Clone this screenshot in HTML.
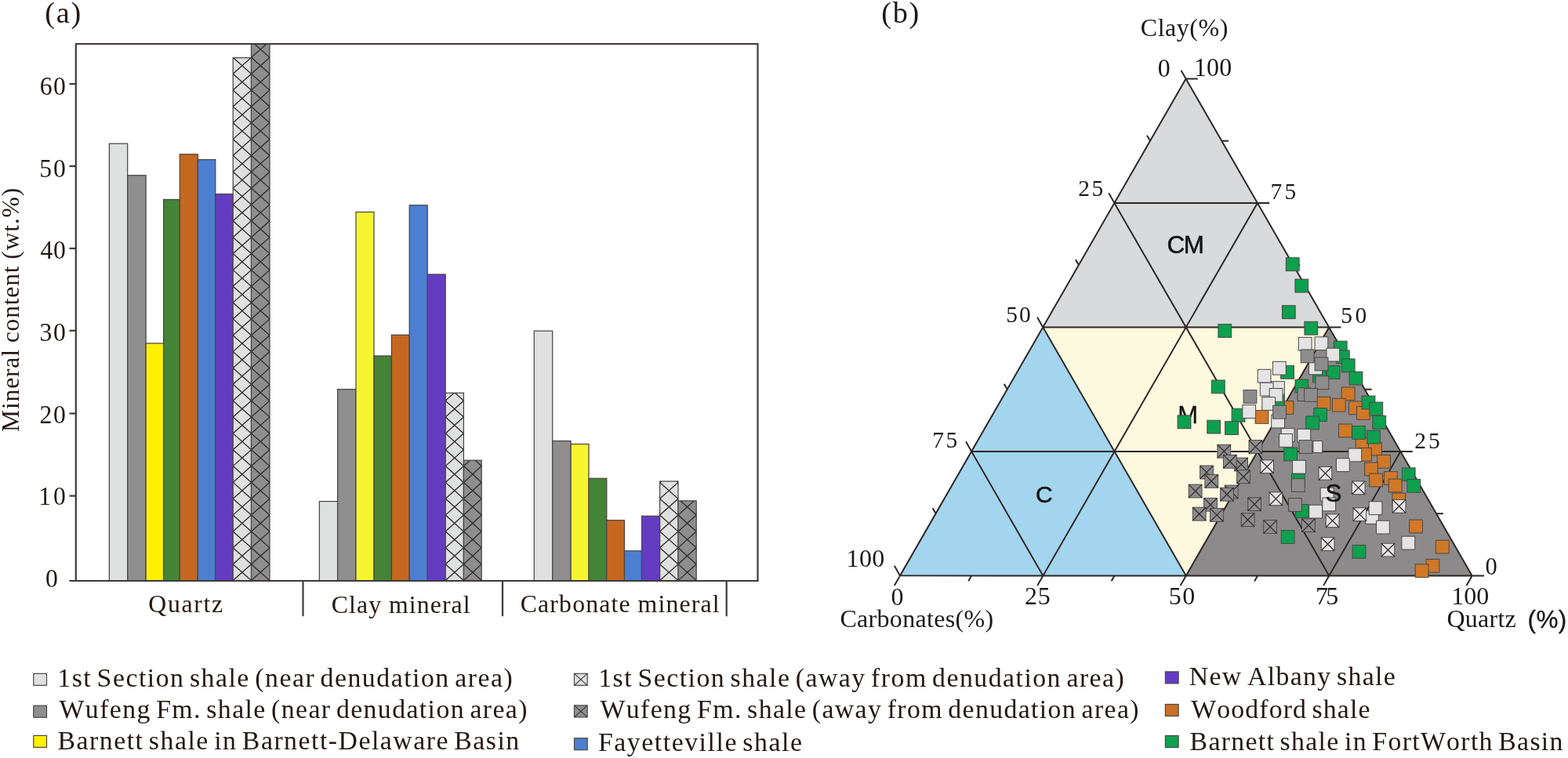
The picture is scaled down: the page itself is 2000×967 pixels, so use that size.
<!DOCTYPE html>
<html lang="en"><head><meta charset="utf-8"><title>Mineral content of shales</title>
<style>
html,body{margin:0;padding:0;background:#fff;}
body{width:2000px;height:967px;overflow:hidden;}
svg{display:block;}
text{font-family:"Liberation Serif", "DejaVu Serif", serif;fill:#231815;font-kerning:none;}
.sans{font-family:"Liberation Sans", "DejaVu Sans", sans-serif;fill:#111;}
</style></head><body>
<svg width="2000" height="967" viewBox="0 0 2000 967">
<rect width="2000" height="967" fill="#fff"/>
<g id="bars">
<rect x="139.4" y="183.2" width="23.3" height="557.8" fill="#dfe0e0" stroke="#4b4646" stroke-width="1.25"/>
<rect x="162.7" y="223.7" width="23.4" height="517.3" fill="#8e8e8e" stroke="#4b4646" stroke-width="1.25"/>
<rect x="186.1" y="438.0" width="22.5" height="303.0" fill="#fff100" stroke="#4b4646" stroke-width="1.25"/>
<rect x="208.6" y="254.5" width="20.7" height="486.5" fill="#448437" stroke="#4b4646" stroke-width="1.25"/>
<rect x="229.3" y="196.8" width="23.0" height="544.2" fill="#c56720" stroke="#4b4646" stroke-width="1.25"/>
<rect x="252.3" y="203.6" width="22.5" height="537.4" fill="#4c7fd1" stroke="#4b4646" stroke-width="1.25"/>
<rect x="274.8" y="247.5" width="22.4" height="493.5" fill="#643cc2" stroke="#4b4646" stroke-width="1.25"/>
<rect x="297.2" y="73.7" width="23.3" height="667.3" fill="#dfe0e0" stroke="#4b4646" stroke-width="1.25"/>
<clipPath id="c2972"><rect x="297.2" y="73.7" width="23.3" height="667.3"/></clipPath>
<path d="M297.2 761.4L320.5 782.2M297.2 782.2L320.5 761.4M297.2 740.5L320.5 761.4M297.2 761.4L320.5 740.5M297.2 719.7L320.5 740.5M297.2 740.5L320.5 719.7M297.2 698.8L320.5 719.7M297.2 719.7L320.5 698.8M297.2 678.0L320.5 698.8M297.2 698.8L320.5 678.0M297.2 657.1L320.5 678.0M297.2 678.0L320.5 657.1M297.2 636.3L320.5 657.1M297.2 657.1L320.5 636.3M297.2 615.4L320.5 636.3M297.2 636.3L320.5 615.4M297.2 594.6L320.5 615.4M297.2 615.4L320.5 594.6M297.2 573.7L320.5 594.6M297.2 594.6L320.5 573.7M297.2 552.9L320.5 573.7M297.2 573.7L320.5 552.9M297.2 532.0L320.5 552.9M297.2 552.9L320.5 532.0M297.2 511.2L320.5 532.0M297.2 532.0L320.5 511.2M297.2 490.3L320.5 511.2M297.2 511.2L320.5 490.3M297.2 469.5L320.5 490.3M297.2 490.3L320.5 469.5M297.2 448.6L320.5 469.5M297.2 469.5L320.5 448.6M297.2 427.8L320.5 448.6M297.2 448.6L320.5 427.8M297.2 406.9L320.5 427.8M297.2 427.8L320.5 406.9M297.2 386.1L320.5 406.9M297.2 406.9L320.5 386.1M297.2 365.2L320.5 386.1M297.2 386.1L320.5 365.2M297.2 344.4L320.5 365.2M297.2 365.2L320.5 344.4M297.2 323.5L320.5 344.4M297.2 344.4L320.5 323.5M297.2 302.7L320.5 323.5M297.2 323.5L320.5 302.7M297.2 281.8L320.5 302.7M297.2 302.7L320.5 281.8M297.2 261.0L320.5 281.8M297.2 281.8L320.5 261.0M297.2 240.1L320.5 261.0M297.2 261.0L320.5 240.1M297.2 219.3L320.5 240.1M297.2 240.1L320.5 219.3M297.2 198.4L320.5 219.3M297.2 219.3L320.5 198.4M297.2 177.6L320.5 198.4M297.2 198.4L320.5 177.6M297.2 156.7L320.5 177.6M297.2 177.6L320.5 156.7M297.2 135.9L320.5 156.7M297.2 156.7L320.5 135.9M297.2 115.0L320.5 135.9M297.2 135.9L320.5 115.0M297.2 94.2L320.5 115.0M297.2 115.0L320.5 94.2M297.2 73.3L320.5 94.2M297.2 94.2L320.5 73.3M297.2 52.5L320.5 73.3M297.2 73.3L320.5 52.5" fill="none" stroke="#2f2b2b" stroke-width="1.3" clip-path="url(#c2972)"/>
<rect x="320.5" y="56.0" width="23.5" height="685.0" fill="#8e8e8e" stroke="#4b4646" stroke-width="1.25"/>
<clipPath id="c3205"><rect x="320.5" y="56.0" width="23.5" height="685.0"/></clipPath>
<path d="M320.5 761.4L344.0 782.2M320.5 782.2L344.0 761.4M320.5 740.5L344.0 761.4M320.5 761.4L344.0 740.5M320.5 719.7L344.0 740.5M320.5 740.5L344.0 719.7M320.5 698.8L344.0 719.7M320.5 719.7L344.0 698.8M320.5 678.0L344.0 698.8M320.5 698.8L344.0 678.0M320.5 657.1L344.0 678.0M320.5 678.0L344.0 657.1M320.5 636.3L344.0 657.1M320.5 657.1L344.0 636.3M320.5 615.4L344.0 636.3M320.5 636.3L344.0 615.4M320.5 594.6L344.0 615.4M320.5 615.4L344.0 594.6M320.5 573.7L344.0 594.6M320.5 594.6L344.0 573.7M320.5 552.9L344.0 573.7M320.5 573.7L344.0 552.9M320.5 532.0L344.0 552.9M320.5 552.9L344.0 532.0M320.5 511.2L344.0 532.0M320.5 532.0L344.0 511.2M320.5 490.3L344.0 511.2M320.5 511.2L344.0 490.3M320.5 469.5L344.0 490.3M320.5 490.3L344.0 469.5M320.5 448.6L344.0 469.5M320.5 469.5L344.0 448.6M320.5 427.8L344.0 448.6M320.5 448.6L344.0 427.8M320.5 406.9L344.0 427.8M320.5 427.8L344.0 406.9M320.5 386.1L344.0 406.9M320.5 406.9L344.0 386.1M320.5 365.2L344.0 386.1M320.5 386.1L344.0 365.2M320.5 344.4L344.0 365.2M320.5 365.2L344.0 344.4M320.5 323.5L344.0 344.4M320.5 344.4L344.0 323.5M320.5 302.7L344.0 323.5M320.5 323.5L344.0 302.7M320.5 281.8L344.0 302.7M320.5 302.7L344.0 281.8M320.5 261.0L344.0 281.8M320.5 281.8L344.0 261.0M320.5 240.1L344.0 261.0M320.5 261.0L344.0 240.1M320.5 219.3L344.0 240.1M320.5 240.1L344.0 219.3M320.5 198.4L344.0 219.3M320.5 219.3L344.0 198.4M320.5 177.6L344.0 198.4M320.5 198.4L344.0 177.6M320.5 156.7L344.0 177.6M320.5 177.6L344.0 156.7M320.5 135.9L344.0 156.7M320.5 156.7L344.0 135.9M320.5 115.0L344.0 135.9M320.5 135.9L344.0 115.0M320.5 94.2L344.0 115.0M320.5 115.0L344.0 94.2M320.5 73.3L344.0 94.2M320.5 94.2L344.0 73.3M320.5 52.5L344.0 73.3M320.5 73.3L344.0 52.5M320.5 31.6L344.0 52.5M320.5 52.5L344.0 31.6" fill="none" stroke="#2f2b2b" stroke-width="1.3" clip-path="url(#c3205)"/>
<rect x="407.4" y="639.6" width="23.2" height="101.4" fill="#dfe0e0" stroke="#4b4646" stroke-width="1.25"/>
<rect x="430.6" y="496.6" width="23.4" height="244.4" fill="#8e8e8e" stroke="#4b4646" stroke-width="1.25"/>
<rect x="454.0" y="270.5" width="23.0" height="470.5" fill="#f6f532" stroke="#4b4646" stroke-width="1.25"/>
<rect x="477.0" y="454.0" width="22.4" height="287.0" fill="#448437" stroke="#4b4646" stroke-width="1.25"/>
<rect x="499.4" y="427.3" width="22.8" height="313.7" fill="#c56720" stroke="#4b4646" stroke-width="1.25"/>
<rect x="522.2" y="261.8" width="23.1" height="479.2" fill="#4c7fd1" stroke="#4b4646" stroke-width="1.25"/>
<rect x="545.3" y="350.0" width="22.9" height="391.0" fill="#643cc2" stroke="#4b4646" stroke-width="1.25"/>
<rect x="568.2" y="501.3" width="23.2" height="239.7" fill="#dfe0e0" stroke="#4b4646" stroke-width="1.25"/>
<clipPath id="c5682"><rect x="568.2" y="501.3" width="23.2" height="239.7"/></clipPath>
<path d="M568.2 761.4L591.4 782.2M568.2 782.2L591.4 761.4M568.2 740.5L591.4 761.4M568.2 761.4L591.4 740.5M568.2 719.7L591.4 740.5M568.2 740.5L591.4 719.7M568.2 698.8L591.4 719.7M568.2 719.7L591.4 698.8M568.2 678.0L591.4 698.8M568.2 698.8L591.4 678.0M568.2 657.1L591.4 678.0M568.2 678.0L591.4 657.1M568.2 636.3L591.4 657.1M568.2 657.1L591.4 636.3M568.2 615.4L591.4 636.3M568.2 636.3L591.4 615.4M568.2 594.6L591.4 615.4M568.2 615.4L591.4 594.6M568.2 573.7L591.4 594.6M568.2 594.6L591.4 573.7M568.2 552.9L591.4 573.7M568.2 573.7L591.4 552.9M568.2 532.0L591.4 552.9M568.2 552.9L591.4 532.0M568.2 511.2L591.4 532.0M568.2 532.0L591.4 511.2M568.2 490.3L591.4 511.2M568.2 511.2L591.4 490.3" fill="none" stroke="#2f2b2b" stroke-width="1.3" clip-path="url(#c5682)"/>
<rect x="591.4" y="587.2" width="22.8" height="153.8" fill="#8e8e8e" stroke="#4b4646" stroke-width="1.25"/>
<clipPath id="c5914"><rect x="591.4" y="587.2" width="22.8" height="153.8"/></clipPath>
<path d="M591.4 761.4L614.2 782.2M591.4 782.2L614.2 761.4M591.4 740.5L614.2 761.4M591.4 761.4L614.2 740.5M591.4 719.7L614.2 740.5M591.4 740.5L614.2 719.7M591.4 698.8L614.2 719.7M591.4 719.7L614.2 698.8M591.4 678.0L614.2 698.8M591.4 698.8L614.2 678.0M591.4 657.1L614.2 678.0M591.4 678.0L614.2 657.1M591.4 636.3L614.2 657.1M591.4 657.1L614.2 636.3M591.4 615.4L614.2 636.3M591.4 636.3L614.2 615.4M591.4 594.6L614.2 615.4M591.4 615.4L614.2 594.6M591.4 573.7L614.2 594.6M591.4 594.6L614.2 573.7" fill="none" stroke="#2f2b2b" stroke-width="1.3" clip-path="url(#c5914)"/>
<rect x="681.3" y="422.2" width="23.4" height="318.8" fill="#dfe0e0" stroke="#4b4646" stroke-width="1.25"/>
<rect x="704.7" y="562.5" width="23.4" height="178.5" fill="#8e8e8e" stroke="#4b4646" stroke-width="1.25"/>
<rect x="728.1" y="566.5" width="22.9" height="174.5" fill="#f6f532" stroke="#4b4646" stroke-width="1.25"/>
<rect x="751.0" y="610.3" width="22.8" height="130.7" fill="#448437" stroke="#4b4646" stroke-width="1.25"/>
<rect x="773.8" y="663.7" width="22.7" height="77.3" fill="#c56720" stroke="#4b4646" stroke-width="1.25"/>
<rect x="796.5" y="702.8" width="22.0" height="38.2" fill="#4c7fd1" stroke="#4b4646" stroke-width="1.25"/>
<rect x="818.5" y="658.3" width="23.1" height="82.7" fill="#643cc2" stroke="#4b4646" stroke-width="1.25"/>
<rect x="841.6" y="614.0" width="23.4" height="127.0" fill="#dfe0e0" stroke="#4b4646" stroke-width="1.25"/>
<clipPath id="c8416"><rect x="841.6" y="614.0" width="23.4" height="127.0"/></clipPath>
<path d="M841.6 761.4L865.0 782.2M841.6 782.2L865.0 761.4M841.6 740.5L865.0 761.4M841.6 761.4L865.0 740.5M841.6 719.7L865.0 740.5M841.6 740.5L865.0 719.7M841.6 698.8L865.0 719.7M841.6 719.7L865.0 698.8M841.6 678.0L865.0 698.8M841.6 698.8L865.0 678.0M841.6 657.1L865.0 678.0M841.6 678.0L865.0 657.1M841.6 636.3L865.0 657.1M841.6 657.1L865.0 636.3M841.6 615.4L865.0 636.3M841.6 636.3L865.0 615.4M841.6 594.6L865.0 615.4M841.6 615.4L865.0 594.6" fill="none" stroke="#2f2b2b" stroke-width="1.3" clip-path="url(#c8416)"/>
<rect x="865.0" y="638.9" width="23.2" height="102.1" fill="#8e8e8e" stroke="#4b4646" stroke-width="1.25"/>
<clipPath id="c8650"><rect x="865.0" y="638.9" width="23.2" height="102.1"/></clipPath>
<path d="M865.0 761.4L888.2 782.2M865.0 782.2L888.2 761.4M865.0 740.5L888.2 761.4M865.0 761.4L888.2 740.5M865.0 719.7L888.2 740.5M865.0 740.5L888.2 719.7M865.0 698.8L888.2 719.7M865.0 719.7L888.2 698.8M865.0 678.0L888.2 698.8M865.0 698.8L888.2 678.0M865.0 657.1L888.2 678.0M865.0 678.0L888.2 657.1M865.0 636.3L888.2 657.1M865.0 657.1L888.2 636.3M865.0 615.4L888.2 636.3M865.0 636.3L888.2 615.4" fill="none" stroke="#2f2b2b" stroke-width="1.3" clip-path="url(#c8650)"/>
</g>
<g id="axes" fill="none" stroke="#3e3a39" stroke-width="2.2">
<path d="M96.8 741.0V56.0H966.5V741.0"/>
<path d="M88.5 741.0H967.5"/>
<path d="M88.5 107.0H96.8"/>
<path d="M88.5 212.0H96.8"/>
<path d="M88.5 316.9H96.8"/>
<path d="M88.5 421.8H96.8"/>
<path d="M88.5 527.5H96.8"/>
<path d="M88.5 632.6H96.8"/>
<path d="M386.5 741.0V786.2"/>
<path d="M641.0 741.0V786.2"/>
<path d="M926.7 741.0V786.2"/>
</g>
<g id="bar-labels">
<text transform="translate(57.32 28.60) scale(1.02 1)" font-size="37.5" style="letter-spacing:1.67px">(a)</text>
<text transform="translate(50.64 121.00) scale(0.96 1)" font-size="33.0" style="letter-spacing:1.65px">60</text>
<text transform="translate(50.16 225.67) scale(0.96 1)" font-size="33.0" style="letter-spacing:2.15px">50</text>
<text transform="translate(51.38 330.34) scale(0.96 1)" font-size="33.0" style="letter-spacing:0.88px">40</text>
<text transform="translate(50.48 435.01) scale(0.96 1)" font-size="33.0" style="letter-spacing:1.82px">30</text>
<text transform="translate(50.61 539.68) scale(0.96 1)" font-size="33.0" style="letter-spacing:1.69px">20</text>
<text transform="translate(49.22 644.35) scale(0.96 1)" font-size="33.0" style="letter-spacing:3.14px">10</text>
<text transform="translate(58.04 749.00) scale(0.96 1)" font-size="33.0" style="letter-spacing:0.00px">0</text>
<text transform="translate(24.00 550.91) rotate(-90) scale(1.0 1)" font-size="31.5" style="letter-spacing:0.86px;word-spacing:-0.86px">Mineral content (wt.%)</text>
<text transform="translate(189.30 781.30) scale(1.0 1)" font-size="31.8" style="letter-spacing:1.65px">Quartz</text>
<text transform="translate(422.80 781.50) scale(1.0 1)" font-size="31.8" style="letter-spacing:1.11px;word-spacing:-0.47px">Clay mineral</text>
<text transform="translate(663.70 780.50) scale(1.0 1)" font-size="31.8" style="letter-spacing:1.17px;word-spacing:-0.53px">Carbonate mineral</text>
</g>
<g id="legend">
<rect x="42.8" y="859.3" width="16.7" height="15.0" fill="#dfe0e0" stroke="#4b4646" stroke-width="1.2"/>
<rect x="42.8" y="900.2" width="16.7" height="15.0" fill="#8e8e8e" stroke="#4b4646" stroke-width="1.2"/>
<rect x="42.8" y="938.4" width="16.7" height="15.0" fill="#fff100" stroke="#4b4646" stroke-width="1.2"/>
<rect x="732.5" y="859.3" width="16.7" height="15.0" fill="#dfe0e0" stroke="#4b4646" stroke-width="1.2"/>
<path d="M732.5 859.3L749.2 874.3M749.2 859.3L732.5 874.3" stroke="#3a3636" stroke-width="1.1" fill="none"/>
<rect x="732.5" y="899.9" width="16.7" height="15.0" fill="#8e8e8e" stroke="#4b4646" stroke-width="1.2"/>
<path d="M732.5 899.9L749.2 914.9M749.2 899.9L732.5 914.9" stroke="#3a3636" stroke-width="1.1" fill="none"/>
<rect x="732.5" y="941.7" width="16.7" height="15.0" fill="#4c7fd1" stroke="#4b4646" stroke-width="1.2"/>
<rect x="1486.4" y="856.9" width="16.7" height="15.0" fill="#643cc2" stroke="#4b4646" stroke-width="1.2"/>
<rect x="1486.4" y="898.5" width="16.7" height="15.0" fill="#c8702a" stroke="#4b4646" stroke-width="1.2"/>
<rect x="1486.4" y="938.5" width="16.7" height="15.0" fill="#12a050" stroke="#4b4646" stroke-width="1.2"/>
<text transform="translate(73.23 875.80) scale(1.0 1)" font-size="33.8" style="letter-spacing:1.50px;word-spacing:-3.53px">1st Section shale (near denudation area)</text>
<text transform="translate(75.57 915.70) scale(1.0 1)" font-size="33.8" style="letter-spacing:1.39px;word-spacing:-3.42px">Wufeng Fm. shale (near denudation area)</text>
<text transform="translate(73.53 955.70) scale(1.0 1)" font-size="33.8" style="letter-spacing:1.49px;word-spacing:-3.52px">Barnett shale in Barnett-Delaware Basin</text>
<text transform="translate(763.23 875.80) scale(1.0 1)" font-size="33.8" style="letter-spacing:1.47px;word-spacing:-3.50px">1st Section shale (away from denudation area)</text>
<text transform="translate(765.57 915.60) scale(1.0 1)" font-size="33.8" style="letter-spacing:1.37px;word-spacing:-3.40px">Wufeng Fm. shale (away from denudation area)</text>
<text transform="translate(762.93 957.50) scale(1.0 1)" font-size="33.8" style="letter-spacing:1.54px;word-spacing:-3.57px">Fayetteville shale</text>
<text transform="translate(1516.63 874.20) scale(1.0 1)" font-size="33.8" style="letter-spacing:1.35px;word-spacing:-3.38px">New Albany shale</text>
<text transform="translate(1519.27 915.50) scale(1.0 1)" font-size="33.8" style="letter-spacing:1.12px;word-spacing:-3.15px">Woodford shale</text>
<text transform="translate(1517.53 957.20) scale(1.0 1)" font-size="33.8" style="letter-spacing:1.31px;word-spacing:-3.34px">Barnett shale in FortWorth Basin</text>
</g>
<g id="ternary">
<path d="M1512.6 100.4L1695.2 417.4L1330.3 417.4Z" fill="#d9dadb"/>
<path d="M1330.3 417.4L1695.2 417.4L1512.8 734.5Z" fill="#fdf9de"/>
<path d="M1330.3 417.4L1512.8 734.5L1148.0 734.4Z" fill="#a4d5ee"/>
<path d="M1695.2 417.4L1877.7 734.5L1512.8 734.5Z" fill="#8c8a8a"/>
<path d="M1512.6 100.4L1877.7 734.5L1148.0 734.4ZM1239.2 575.9L1786.4 576.0M1330.4 734.4L1603.9 258.9M1695.3 734.5L1421.4 258.9M1330.3 417.4L1695.2 417.4M1512.8 734.5L1695.2 417.4M1512.8 734.5L1330.3 417.4M1421.4 258.9L1603.9 258.9M1695.3 734.5L1786.4 576.0M1330.4 734.4L1239.2 575.9M1148.0 734.4l-7.2 -12.6M1877.7 734.5h15.3M1148.0 734.4l-7.2 12.6M1193.6 655.1l-4.0 -6.9M1832.1 655.2h8.8M1239.2 734.4l-4.0 6.9M1239.2 575.9l-7.2 -12.6M1786.4 576.0h15.3M1330.4 734.4l-7.2 12.6M1284.7 496.6l-4.0 -6.9M1740.8 496.7h8.8M1421.6 734.4l-4.0 6.9M1330.3 417.4l-7.2 -12.6M1695.2 417.4h15.3M1512.8 734.5l-7.2 12.6M1375.9 338.1l-4.0 -6.9M1649.5 338.2h8.8M1604.1 734.5l-4.0 6.9M1421.4 258.9l-7.2 -12.6M1603.9 258.9h15.3M1695.3 734.5l-7.2 12.6M1467.0 179.7l-4.0 -6.9M1558.2 179.7h8.8M1512.6 100.4l-6.1 -10.6M1512.6 100.4h15.3M1877.7 734.5l-7.2 12.6" fill="none" stroke="#2b2624" stroke-width="1.95" stroke-linejoin="miter"/>
<text x="1488.6" y="323.0" font-size="31.5" class="sans" textLength="47.5" lengthAdjust="spacing" stroke="#111" stroke-width="0.5">CM</text>
<text x="1502.3" y="540.4" font-size="31" class="sans" stroke="#111" stroke-width="0.3">M</text>
<text x="1321.0" y="641.3" font-size="30" class="sans" stroke="#111" stroke-width="0.5">C</text>
<g id="points" stroke="#4d4848" stroke-width="1">
<g fill="#d07828">
<rect x="1711.3" y="493.9" width="16.8" height="16.8"/>
<rect x="1680.1" y="506.4" width="16.8" height="16.8"/>
<rect x="1699.4" y="508.3" width="16.8" height="16.8"/>
<rect x="1720.4" y="512.0" width="16.8" height="16.8"/>
<rect x="1730.5" y="518.5" width="16.8" height="16.8"/>
<rect x="1633.0" y="511.6" width="16.8" height="16.8"/>
<rect x="1601.1" y="523.5" width="16.8" height="16.8"/>
<rect x="1707.5" y="541.0" width="16.8" height="16.8"/>
<rect x="1729.2" y="558.1" width="16.8" height="16.8"/>
<rect x="1745.5" y="564.2" width="16.8" height="16.8"/>
<rect x="1732.5" y="571.4" width="16.8" height="16.8"/>
<rect x="1756.7" y="580.4" width="16.8" height="16.8"/>
<rect x="1740.6" y="590.1" width="16.8" height="16.8"/>
<rect x="1746.7" y="604.1" width="16.8" height="16.8"/>
<rect x="1765.5" y="601.6" width="16.8" height="16.8"/>
<rect x="1771.3" y="611.1" width="16.8" height="16.8"/>
<rect x="1775.9" y="629.1" width="16.8" height="16.8"/>
<rect x="1797.6" y="663.1" width="16.8" height="16.8"/>
<rect x="1831.4" y="689.2" width="16.8" height="16.8"/>
<rect x="1819.0" y="713.4" width="16.8" height="16.8"/>
<rect x="1805.2" y="719.8" width="16.8" height="16.8"/>
</g>
<g fill="#0da04e">
<rect x="1640.3" y="328.8" width="16.8" height="16.8"/>
<rect x="1651.9" y="356.2" width="16.8" height="16.8"/>
<rect x="1635.4" y="389.8" width="16.8" height="16.8"/>
<rect x="1663.9" y="410.3" width="16.8" height="16.8"/>
<rect x="1553.9" y="413.6" width="16.8" height="16.8"/>
<rect x="1701.3" y="435.2" width="16.8" height="16.8"/>
<rect x="1704.4" y="447.0" width="16.8" height="16.8"/>
<rect x="1711.3" y="457.9" width="16.8" height="16.8"/>
<rect x="1633.6" y="466.4" width="16.8" height="16.8"/>
<rect x="1674.6" y="471.1" width="16.8" height="16.8"/>
<rect x="1692.1" y="466.6" width="16.8" height="16.8"/>
<rect x="1721.1" y="474.2" width="16.8" height="16.8"/>
<rect x="1545.4" y="485.0" width="16.8" height="16.8"/>
<rect x="1652.0" y="484.2" width="16.8" height="16.8"/>
<rect x="1621.6" y="501.6" width="16.8" height="16.8"/>
<rect x="1737.1" y="505.1" width="16.8" height="16.8"/>
<rect x="1746.9" y="513.1" width="16.8" height="16.8"/>
<rect x="1571.1" y="521.3" width="16.8" height="16.8"/>
<rect x="1675.7" y="520.6" width="16.8" height="16.8"/>
<rect x="1665.7" y="531.0" width="16.8" height="16.8"/>
<rect x="1502.1" y="529.9" width="16.8" height="16.8"/>
<rect x="1539.8" y="536.2" width="16.8" height="16.8"/>
<rect x="1562.6" y="537.7" width="16.8" height="16.8"/>
<rect x="1750.8" y="530.4" width="16.8" height="16.8"/>
<rect x="1724.6" y="543.5" width="16.8" height="16.8"/>
<rect x="1743.6" y="549.2" width="16.8" height="16.8"/>
<rect x="1637.7" y="571.1" width="16.8" height="16.8"/>
<rect x="1647.4" y="604.6" width="16.8" height="16.8"/>
<rect x="1788.3" y="596.9" width="16.8" height="16.8"/>
<rect x="1794.9" y="611.4" width="16.8" height="16.8"/>
<rect x="1652.3" y="643.6" width="16.8" height="16.8"/>
<rect x="1634.2" y="676.6" width="16.8" height="16.8"/>
<rect x="1725.1" y="695.4" width="16.8" height="16.8"/>
</g>
<g fill="#e4e4e4">
<rect x="1656.3" y="430.4" width="16.8" height="16.8"/>
<rect x="1677.0" y="429.8" width="16.8" height="16.8"/>
<rect x="1691.9" y="444.2" width="16.8" height="16.8"/>
<rect x="1623.4" y="461.3" width="16.8" height="16.8"/>
<rect x="1669.6" y="461.0" width="16.8" height="16.8"/>
<rect x="1604.2" y="471.3" width="16.8" height="16.8"/>
<rect x="1621.6" y="486.6" width="16.8" height="16.8"/>
<rect x="1607.3" y="488.2" width="16.8" height="16.8"/>
<rect x="1619.2" y="495.5" width="16.8" height="16.8"/>
<rect x="1609.8" y="506.6" width="16.8" height="16.8"/>
<rect x="1584.8" y="516.6" width="16.8" height="16.8"/>
<rect x="1621.7" y="529.1" width="16.8" height="16.8"/>
<rect x="1634.2" y="546.6" width="16.8" height="16.8"/>
<rect x="1631.7" y="553.5" width="16.8" height="16.8"/>
<rect x="1654.9" y="547.3" width="16.8" height="16.8"/>
<rect x="1674.9" y="562.5" width="11.8" height="15.0"/>
<rect x="1719.9" y="572.1" width="16.8" height="16.8"/>
<rect x="1704.5" y="584.8" width="16.8" height="16.8"/>
<rect x="1648.6" y="587.3" width="16.8" height="16.8"/>
<rect x="1684.2" y="622.3" width="16.8" height="16.8"/>
<rect x="1686.8" y="635.1" width="16.8" height="16.8"/>
<rect x="1669.7" y="644.2" width="16.8" height="16.8"/>
<rect x="1741.6" y="651.6" width="16.8" height="16.8"/>
<rect x="1746.1" y="639.8" width="16.8" height="16.8"/>
<rect x="1755.5" y="664.2" width="16.8" height="16.8"/>
<rect x="1787.9" y="684.2" width="16.8" height="16.8"/>
</g>
<g fill="#8e8d8d">
<rect x="1659.2" y="446.0" width="16.8" height="16.8"/>
<rect x="1677.1" y="456.0" width="16.8" height="16.8"/>
<rect x="1678.0" y="479.8" width="16.8" height="16.8"/>
<rect x="1655.1" y="494.8" width="16.8" height="16.8"/>
<rect x="1663.6" y="495.5" width="16.8" height="16.8"/>
<rect x="1586.1" y="497.6" width="16.8" height="16.8"/>
<rect x="1623.6" y="517.3" width="16.8" height="16.8"/>
<rect x="1657.0" y="561.6" width="16.8" height="16.8"/>
<rect x="1647.4" y="610.6" width="16.8" height="16.8"/>
<rect x="1643.6" y="635.6" width="16.8" height="16.8"/>
</g>
<g fill="#e4e4e4">
<rect x="1607.7" y="586.9" width="16.8" height="16.8"/>
<path d="M1607.7 586.9l16.8 16.8M1624.5 586.9l-16.8 16.8" stroke="#2e2a2a" stroke-width="1.25"/>
<rect x="1682.0" y="595.4" width="16.8" height="16.8"/>
<path d="M1682.0 595.4l16.8 16.8M1698.8 595.4l-16.8 16.8" stroke="#2e2a2a" stroke-width="1.25"/>
<rect x="1724.3" y="613.9" width="16.8" height="16.8"/>
<path d="M1724.3 613.9l16.8 16.8M1741.1 613.9l-16.8 16.8" stroke="#2e2a2a" stroke-width="1.25"/>
<rect x="1619.0" y="627.9" width="16.8" height="16.8"/>
<path d="M1619.0 627.9l16.8 16.8M1635.8 627.9l-16.8 16.8" stroke="#2e2a2a" stroke-width="1.25"/>
<rect x="1725.9" y="647.8" width="16.8" height="16.8"/>
<path d="M1725.9 647.8l16.8 16.8M1742.7 647.8l-16.8 16.8" stroke="#2e2a2a" stroke-width="1.25"/>
<rect x="1691.2" y="655.9" width="16.8" height="16.8"/>
<path d="M1691.2 655.9l16.8 16.8M1708.0 655.9l-16.8 16.8" stroke="#2e2a2a" stroke-width="1.25"/>
<rect x="1776.2" y="637.4" width="16.8" height="16.8"/>
<path d="M1776.2 637.4l16.8 16.8M1793.0 637.4l-16.8 16.8" stroke="#2e2a2a" stroke-width="1.25"/>
<rect x="1685.2" y="685.7" width="16.8" height="16.8"/>
<path d="M1685.2 685.7l16.8 16.8M1702.0 685.7l-16.8 16.8" stroke="#2e2a2a" stroke-width="1.25"/>
<rect x="1762.0" y="693.2" width="16.8" height="16.8"/>
<path d="M1762.0 693.2l16.8 16.8M1778.8 693.2l-16.8 16.8" stroke="#2e2a2a" stroke-width="1.25"/>
</g>
<g fill="#8e8d8d">
<rect x="1593.0" y="561.6" width="16.8" height="16.8"/>
<path d="M1593.0 561.6l16.8 16.8M1609.8 561.6l-16.8 16.8" stroke="#2e2a2a" stroke-width="1.25"/>
<rect x="1552.9" y="567.3" width="16.8" height="16.8"/>
<path d="M1552.9 567.3l16.8 16.8M1569.7 567.3l-16.8 16.8" stroke="#2e2a2a" stroke-width="1.25"/>
<rect x="1574.7" y="584.1" width="16.8" height="16.8"/>
<path d="M1574.7 584.1l16.8 16.8M1591.5 584.1l-16.8 16.8" stroke="#2e2a2a" stroke-width="1.25"/>
<rect x="1560.4" y="580.4" width="16.8" height="16.8"/>
<path d="M1560.4 580.4l16.8 16.8M1577.2 580.4l-16.8 16.8" stroke="#2e2a2a" stroke-width="1.25"/>
<rect x="1530.6" y="594.1" width="16.8" height="16.8"/>
<path d="M1530.6 594.1l16.8 16.8M1547.4 594.1l-16.8 16.8" stroke="#2e2a2a" stroke-width="1.25"/>
<rect x="1577.6" y="599.8" width="16.8" height="16.8"/>
<path d="M1577.6 599.8l16.8 16.8M1594.4 599.8l-16.8 16.8" stroke="#2e2a2a" stroke-width="1.25"/>
<rect x="1536.9" y="605.4" width="16.8" height="16.8"/>
<path d="M1536.9 605.4l16.8 16.8M1553.7 605.4l-16.8 16.8" stroke="#2e2a2a" stroke-width="1.25"/>
<rect x="1516.2" y="618.1" width="16.8" height="16.8"/>
<path d="M1516.2 618.1l16.8 16.8M1533.0 618.1l-16.8 16.8" stroke="#2e2a2a" stroke-width="1.25"/>
<rect x="1562.3" y="619.1" width="16.8" height="16.8"/>
<path d="M1562.3 619.1l16.8 16.8M1579.1 619.1l-16.8 16.8" stroke="#2e2a2a" stroke-width="1.25"/>
<rect x="1556.6" y="622.3" width="16.8" height="16.8"/>
<path d="M1556.6 622.3l16.8 16.8M1573.4 622.3l-16.8 16.8" stroke="#2e2a2a" stroke-width="1.25"/>
<rect x="1535.6" y="635.4" width="16.8" height="16.8"/>
<path d="M1535.6 635.4l16.8 16.8M1552.4 635.4l-16.8 16.8" stroke="#2e2a2a" stroke-width="1.25"/>
<rect x="1521.3" y="647.3" width="16.8" height="16.8"/>
<path d="M1521.3 647.3l16.8 16.8M1538.1 647.3l-16.8 16.8" stroke="#2e2a2a" stroke-width="1.25"/>
<rect x="1543.6" y="648.6" width="16.8" height="16.8"/>
<path d="M1543.6 648.6l16.8 16.8M1560.4 648.6l-16.8 16.8" stroke="#2e2a2a" stroke-width="1.25"/>
<rect x="1591.7" y="634.8" width="16.8" height="16.8"/>
<path d="M1591.7 634.8l16.8 16.8M1608.5 634.8l-16.8 16.8" stroke="#2e2a2a" stroke-width="1.25"/>
<rect x="1583.2" y="654.8" width="16.8" height="16.8"/>
<path d="M1583.2 654.8l16.8 16.8M1600.0 654.8l-16.8 16.8" stroke="#2e2a2a" stroke-width="1.25"/>
<rect x="1611.7" y="663.6" width="16.8" height="16.8"/>
<path d="M1611.7 663.6l16.8 16.8M1628.5 663.6l-16.8 16.8" stroke="#2e2a2a" stroke-width="1.25"/>
<rect x="1660.5" y="661.8" width="16.8" height="16.8"/>
<path d="M1660.5 661.8l16.8 16.8M1677.3 661.8l-16.8 16.8" stroke="#2e2a2a" stroke-width="1.25"/>
</g>
</g>
<text x="1690.6" y="640.4" font-size="31.5" class="sans" stroke="#111" stroke-width="0.4">S</text>
<g id="tern-labels">
<text transform="translate(1124.32 28.60) scale(1.02 1)" font-size="37.5" style="letter-spacing:1.60px;fill:#1a1a1a">(b)</text>
<text transform="translate(1454.79 45.90) scale(1.0 1)" font-size="32.0" style="letter-spacing:0.52px;fill:#1a1a1a">Clay(%)</text>
<text transform="translate(1476.78 98.40) scale(0.96 1)" font-size="33.3" style="letter-spacing:0.00px;fill:#1a1a1a">0</text>
<text transform="translate(1522.94 97.30) scale(0.96 1)" font-size="33.3" style="letter-spacing:0.17px;fill:#1a1a1a">100</text>
<text transform="translate(1375.20 249.50) scale(1.0 1)" font-size="29.5" style="letter-spacing:2.45px;fill:#1a1a1a">25</text>
<text transform="translate(1620.56 253.80) scale(1.0 1)" font-size="29.5" style="letter-spacing:3.10px;fill:#1a1a1a">75</text>
<text transform="translate(1283.29 410.50) scale(1.0 1)" font-size="29.5" style="letter-spacing:1.84px;fill:#1a1a1a">50</text>
<text transform="translate(1710.29 412.00) scale(1.0 1)" font-size="29.5" style="letter-spacing:3.34px;fill:#1a1a1a">50</text>
<text transform="translate(1189.36 570.80) scale(1.0 1)" font-size="29.5" style="letter-spacing:2.30px;fill:#1a1a1a">75</text>
<text transform="translate(1804.30 572.00) scale(1.0 1)" font-size="29.5" style="letter-spacing:3.05px;fill:#1a1a1a">25</text>
<text transform="translate(1079.59 723.40) scale(1.0 1)" font-size="32.0" style="letter-spacing:0.32px;fill:#1a1a1a">100</text>
<text transform="translate(1894.44 732.60) scale(1.0 1)" font-size="30.5" style="letter-spacing:0.00px;fill:#1a1a1a">0</text>
<text transform="translate(1136.38 772.20) scale(1.0 1)" font-size="32.0" style="letter-spacing:0.00px;fill:#1a1a1a">0</text>
<text transform="translate(1307.09 771.00) scale(1.0 1)" font-size="32.0" style="letter-spacing:0.66px;fill:#1a1a1a">25</text>
<text transform="translate(1490.64 771.00) scale(1.0 1)" font-size="32.0" style="letter-spacing:1.58px;fill:#1a1a1a">50</text>
<text transform="translate(1677.89 771.30) scale(1.0 1)" font-size="32.0" style="letter-spacing:-2.64px;fill:#1a1a1a">75</text>
<text transform="translate(1851.19 771.30) scale(1.0 1)" font-size="32.0" style="letter-spacing:0.02px;fill:#1a1a1a">100</text>
<text transform="translate(1071.39 800.00) scale(1.0 1)" font-size="32.0" style="letter-spacing:0.32px;fill:#1a1a1a">Carbonates(%)</text>
<text transform="translate(1845.49 799.60) scale(1.0 1)" font-size="32.0" style="letter-spacing:0.23px;fill:#1a1a1a">Quartz</text>
<text x="1948.6" y="801.2" font-size="31.5" class="sans" textLength="49.6" lengthAdjust="spacing" stroke="#1a1a1a" stroke-width="0.35" style="fill:#1a1a1a">(%)</text>
</g>
</g>
</svg>
</body></html>
